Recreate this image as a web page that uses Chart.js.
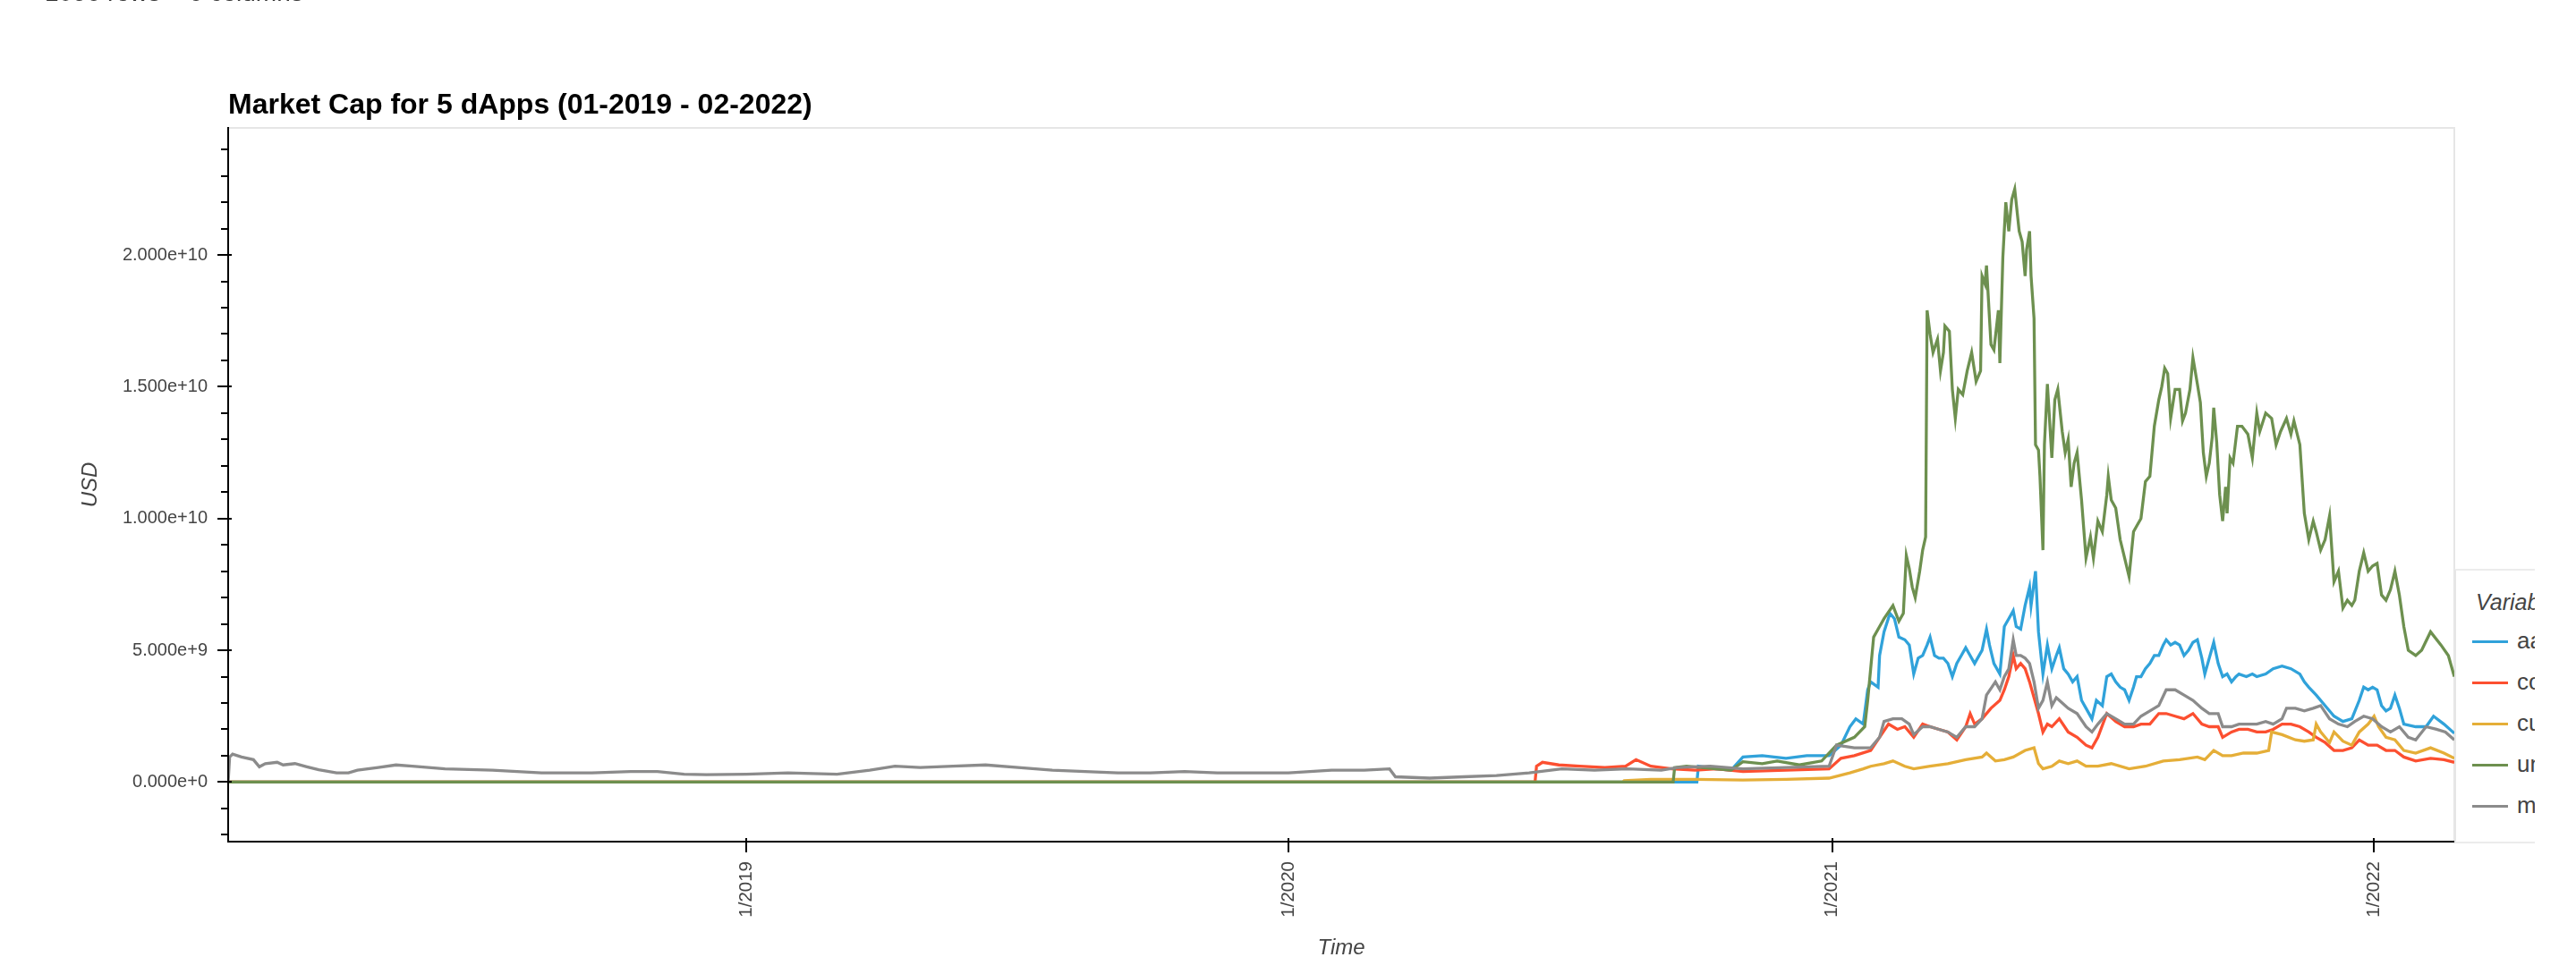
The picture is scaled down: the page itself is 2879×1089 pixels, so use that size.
<!DOCTYPE html>
<html>
<head>
<meta charset="utf-8">
<script src="https://cdn.jsdelivr.net/npm/chart.js@4.4.1/dist/chart.umd.min.js"></script>
<style>
  html, body { margin: 0; padding: 0; background: #fff; overflow: hidden; }
  #wrap { position: relative; width: 2879px; height: 1089px; overflow: hidden; }
  #c { position: absolute; left: 0; top: 0; }
  .txt { position: absolute; font-family: 'Liberation Sans', Arial, Helvetica, sans-serif; white-space: nowrap; }
  #rows { left: 50px; top: -22px; font-size: 28px; line-height: 28px; color: #333; }
  #legClip { position: absolute; left: 2743px; top: 600px; width: 90px; height: 400px; overflow: hidden; }
  #legend { position: absolute; left: 0px; top: 36px; width: 400px; height: 303px; border: 2px solid #ececec; border-left-color: #e6e6e6; background: #fff; }
  #legTitle { left: 24px; top: 61px; font-size: 25px; line-height: 25px; font-style: italic; color: #444; }
  .legLine { position: absolute; left: 20px; width: 40px; height: 3.3px; }
  .legLab { left: 70px; font-size: 26px; line-height: 26px; color: #444; }
</style>
</head>
<body>
<div id="wrap">
  <canvas id="c" width="2879" height="1089"></canvas>
  <div class="txt" id="rows">1096 rows × 6 columns</div>
  <div id="legClip">
    <div id="legend"></div>
    <div class="txt" id="legTitle">Variable</div>
  </div>
</div>
<script>
// ---------------- DATA (values in billions of USD) ----------------
const seriesNames = ['aave', 'compound', 'curve', 'uniswap', 'maker'];
const seriesColors = ['#30a2da', '#fc4f30', '#e5ae38', '#6d904f', '#8b8b8b'];

const aaveDates = ['2018-01-17','2020-10-02','2020-10-03','2020-10-15','2020-10-25','2020-11-02','2020-11-15','2020-12-01','2020-12-15','2020-12-30',
'2021-01-07','2021-01-13','2021-01-17','2021-01-22','2021-01-25','2021-01-27','2021-02-01','2021-02-02','2021-02-05','2021-02-09','2021-02-12','2021-02-15','2021-02-19','2021-02-22','2021-02-25','2021-02-28',
'2021-03-03','2021-03-06','2021-03-08','2021-03-11','2021-03-14','2021-03-17','2021-03-20','2021-03-23','2021-03-26','2021-03-29','2021-04-01','2021-04-04','2021-04-07','2021-04-09','2021-04-12','2021-04-15','2021-04-17','2021-04-20','2021-04-24','2021-04-27','2021-04-30',
'2021-05-03','2021-05-05','2021-05-08','2021-05-11','2021-05-14','2021-05-15','2021-05-18','2021-05-20','2021-05-23','2021-05-26','2021-05-29','2021-06-01','2021-06-03','2021-06-06','2021-06-09','2021-06-12','2021-06-15','2021-06-18','2021-06-21','2021-06-25','2021-06-28',
'2021-07-02','2021-07-05','2021-07-08','2021-07-11','2021-07-14','2021-07-17','2021-07-20','2021-07-23','2021-07-25','2021-07-28','2021-07-31','2021-08-03','2021-08-06','2021-08-09','2021-08-12','2021-08-14','2021-08-17','2021-08-20','2021-08-23','2021-08-26','2021-08-29',
'2021-09-01','2021-09-04','2021-09-07','2021-09-09','2021-09-12','2021-09-15','2021-09-18','2021-09-21','2021-09-24','2021-09-27','2021-09-30','2021-10-02','2021-10-07','2021-10-11','2021-10-14','2021-10-20','2021-10-25','2021-10-31',
'2021-11-06','2021-11-12','2021-11-15','2021-11-18','2021-11-23','2021-11-29','2021-12-05','2021-12-11','2021-12-17','2021-12-22','2021-12-25','2021-12-28','2021-12-31',
'2022-01-03','2022-01-06','2022-01-09','2022-01-12','2022-01-15','2022-01-18','2022-01-21','2022-01-29','2022-02-05','2022-02-10','2022-02-17','2022-02-24'];
const aaveValues = [0,0,0.6,0.5,0.45,0.95,1.0,0.9,1.0,1.0,
1.4,2.1,2.4,2.2,3.5,3.8,3.6,4.8,5.7,6.4,6.2,5.5,5.4,5.2,4.1,4.7,
4.8,5.2,5.5,4.8,4.7,4.7,4.5,4.0,4.5,4.8,5.1,4.8,4.5,4.7,5.0,5.8,5.2,4.5,4.1,5.9,6.2,
6.5,5.9,5.8,6.7,7.4,6.7,8.0,5.7,4.1,5.2,4.3,4.8,5.1,4.3,4.1,3.8,4.0,3.1,2.8,2.4,3.1,
2.9,4.0,4.1,3.8,3.6,3.5,3.1,3.6,4.0,4.0,4.3,4.5,4.8,4.8,5.2,5.4,5.2,5.3,5.2,4.8,5.0,
5.3,5.4,4.7,4.1,4.7,5.3,4.5,4.0,4.1,3.8,4.0,4.1,4.0,4.1,4.0,4.1,4.3,4.4,
4.3,4.1,3.8,3.6,3.3,2.9,2.5,2.3,2.4,3.1,3.6,3.5,3.6,
3.5,2.9,2.7,2.8,3.3,2.8,2.2,2.1,2.1,2.5,2.2,1.85];

const compoundDates = ['2018-01-17','2020-06-15','2020-06-16','2020-06-20','2020-07-01','2020-07-15','2020-08-01','2020-08-15','2020-08-22','2020-09-01','2020-09-15','2020-10-01','2020-10-15','2020-11-02','2020-12-01','2020-12-30',
'2021-01-07','2021-01-16','2021-01-27','2021-02-02','2021-02-08','2021-02-14','2021-02-19','2021-02-25','2021-03-03','2021-03-08','2021-03-14','2021-03-20','2021-03-26','2021-04-01','2021-04-04','2021-04-07','2021-04-12','2021-04-18','2021-04-24','2021-04-27','2021-04-30',
'2021-05-03','2021-05-05','2021-05-08','2021-05-11','2021-05-14','2021-05-20','2021-05-23','2021-05-26','2021-05-29','2021-06-03','2021-06-09','2021-06-15','2021-06-21','2021-06-25','2021-06-29',
'2021-07-05','2021-07-11','2021-07-17','2021-07-23','2021-07-28','2021-08-03','2021-08-09','2021-08-14','2021-08-20','2021-08-26','2021-09-01','2021-09-07','2021-09-12','2021-09-18','2021-09-21','2021-09-27',
'2021-10-02','2021-10-08','2021-10-14','2021-10-20','2021-10-25','2021-10-31','2021-11-06','2021-11-12','2021-11-18','2021-11-23','2021-11-29','2021-12-05','2021-12-11','2021-12-17','2021-12-22','2021-12-28',
'2022-01-03','2022-01-09','2022-01-15','2022-01-21','2022-01-29','2022-02-08','2022-02-17','2022-02-24'];
const compoundValues = [0,0,0.6,0.75,0.65,0.6,0.55,0.6,0.85,0.6,0.5,0.45,0.5,0.4,0.45,0.5,
0.9,1.0,1.2,1.7,2.2,2.0,2.1,1.7,2.2,2.1,2.0,1.9,1.6,2.1,2.6,2.2,2.4,2.8,3.1,3.5,4.0,
4.8,4.3,4.5,4.3,3.8,2.6,1.9,2.2,2.1,2.4,1.9,1.7,1.4,1.3,1.7,
2.6,2.3,2.1,2.1,2.2,2.2,2.6,2.6,2.5,2.4,2.6,2.2,2.1,2.1,1.7,1.9,
2.0,2.0,1.9,1.9,2.0,2.2,2.2,2.1,1.9,1.7,1.5,1.2,1.2,1.3,1.6,1.4,
1.4,1.2,1.2,0.95,0.8,0.9,0.85,0.75];

const curveDates = ['2018-01-17','2020-08-13','2020-08-14','2020-09-01','2020-10-01','2020-11-02','2020-12-01','2020-12-30',
'2021-01-13','2021-01-22','2021-01-27','2021-02-05','2021-02-11','2021-02-19','2021-02-25','2021-03-08','2021-03-20','2021-04-01','2021-04-12','2021-04-15','2021-04-21','2021-04-27',
'2021-05-03','2021-05-11','2021-05-17','2021-05-20','2021-05-23','2021-05-29','2021-06-03','2021-06-09','2021-06-15','2021-06-21','2021-06-29','2021-07-08','2021-07-20','2021-07-31',
'2021-08-12','2021-08-23','2021-09-04','2021-09-09','2021-09-15','2021-09-21','2021-09-27','2021-10-05','2021-10-14','2021-10-22','2021-10-24','2021-10-31',
'2021-11-09','2021-11-15','2021-11-21','2021-11-23','2021-11-26','2021-12-02','2021-12-05','2021-12-11','2021-12-17','2021-12-22','2021-12-28',
'2022-01-01','2022-01-04','2022-01-09','2022-01-15','2022-01-21','2022-01-29','2022-02-08','2022-02-17','2022-02-24'];
const curveValues = [0,0,0.05,0.1,0.1,0.08,0.1,0.15,
0.35,0.5,0.6,0.7,0.8,0.6,0.5,0.6,0.7,0.85,0.95,1.1,0.8,0.85,
0.95,1.2,1.3,0.7,0.5,0.6,0.8,0.7,0.8,0.6,0.6,0.7,0.5,0.6,
0.8,0.85,0.95,0.85,1.2,1.0,1.0,1.1,1.1,1.2,1.9,1.8,
1.6,1.55,1.6,2.2,1.9,1.5,1.9,1.55,1.4,1.9,2.2,
2.5,2.1,1.7,1.6,1.2,1.1,1.3,1.1,0.9];

const uniswapDates = ['2018-01-17','2020-09-16','2020-09-17','2020-09-25','2020-10-05','2020-10-15','2020-10-25','2020-11-02','2020-11-15','2020-11-25','2020-12-10','2020-12-25',
'2021-01-04','2021-01-16','2021-01-23','2021-01-25','2021-01-27','2021-01-29','2021-02-02','2021-02-05','2021-02-11','2021-02-15','2021-02-18','2021-02-20','2021-02-22','2021-02-24','2021-02-26',
'2021-03-01','2021-03-03','2021-03-05','2021-03-06','2021-03-08','2021-03-10','2021-03-13','2021-03-15','2021-03-17','2021-03-18','2021-03-21','2021-03-23','2021-03-25','2021-03-27','2021-03-30',
'2021-04-02','2021-04-05','2021-04-08','2021-04-11','2021-04-12','2021-04-14','2021-04-15','2021-04-18','2021-04-20','2021-04-23','2021-04-24','2021-04-26','2021-04-28','2021-04-30',
'2021-05-02','2021-05-04','2021-05-07','2021-05-09','2021-05-11','2021-05-12','2021-05-14','2021-05-15','2021-05-17','2021-05-18','2021-05-20','2021-05-21','2021-05-23','2021-05-24','2021-05-26','2021-05-29','2021-05-31',
'2021-06-02','2021-06-05','2021-06-07','2021-06-09','2021-06-11','2021-06-13','2021-06-15','2021-06-18','2021-06-21','2021-06-24','2021-06-26','2021-06-29',
'2021-07-02','2021-07-05','2021-07-06','2021-07-08','2021-07-11','2021-07-14','2021-07-17','2021-07-20','2021-07-23','2021-07-25','2021-07-28','2021-07-31',
'2021-08-03','2021-08-06','2021-08-09','2021-08-11','2021-08-13','2021-08-15','2021-08-17','2021-08-20','2021-08-23','2021-08-25','2021-08-27','2021-08-30',
'2021-09-01','2021-09-04','2021-09-06','2021-09-08','2021-09-10','2021-09-12','2021-09-14','2021-09-15','2021-09-17','2021-09-19','2021-09-21','2021-09-23','2021-09-24','2021-09-26','2021-09-28',
'2021-10-01','2021-10-04','2021-10-08','2021-10-11','2021-10-14','2021-10-16','2021-10-20','2021-10-24','2021-10-27','2021-10-30',
'2021-11-03','2021-11-06','2021-11-08','2021-11-12','2021-11-15','2021-11-18','2021-11-21','2021-11-23','2021-11-26','2021-11-29',
'2021-12-02','2021-12-05','2021-12-08','2021-12-11','2021-12-14','2021-12-17','2021-12-19','2021-12-22','2021-12-25','2021-12-28','2021-12-31',
'2022-01-03','2022-01-06','2022-01-09','2022-01-12','2022-01-15','2022-01-18','2022-01-21','2022-01-24','2022-01-29','2022-02-02','2022-02-08','2022-02-15','2022-02-20','2022-02-24'];
const uniswapValues = [0,0,0.55,0.6,0.55,0.5,0.45,0.77,0.7,0.8,0.65,0.8,
1.4,1.7,2.1,3.1,4.3,5.5,5.9,6.2,6.7,6.1,6.4,8.6,8.1,7.4,7.0,
8.0,8.8,9.3,17.9,17.0,16.3,16.8,15.6,16.3,17.3,17.1,14.9,13.8,14.9,14.7,
15.6,16.3,15.2,15.6,19.2,18.9,19.6,16.6,16.4,17.9,15.9,19.9,22.0,20.9,
22.1,22.5,20.9,20.5,19.2,20.2,20.9,19.2,17.6,12.8,12.6,11.6,8.8,12.8,15.1,12.3,14.5,
14.9,13.3,12.5,13.0,11.2,12.1,12.5,10.7,8.5,9.3,8.5,9.9,
9.5,10.9,11.6,10.7,10.4,9.2,8.5,7.8,9.5,9.7,10.0,11.4,
11.6,13.5,14.5,15.0,15.7,15.5,13.8,14.9,14.9,13.7,14.0,14.9,
16.1,15.1,14.4,12.5,11.6,12.1,13.1,14.2,12.9,10.9,9.9,11.2,10.2,12.3,12.1,
13.5,13.5,13.2,12.3,14.0,13.3,14.0,13.8,12.8,13.3,
13.8,13.2,13.7,12.8,10.2,9.2,9.9,9.5,8.8,9.2,
10.1,7.6,8.0,6.6,6.9,6.7,6.9,8.0,8.7,8.0,8.2,
8.3,7.1,6.9,7.3,8.0,7.1,5.9,5.0,4.8,5.0,5.7,5.2,4.8,4.0];

const makerDates = ['2018-01-17','2018-01-18','2018-01-20','2018-01-26','2018-02-03','2018-02-07','2018-02-11','2018-02-19','2018-02-23','2018-03-03','2018-03-11','2018-03-19','2018-03-31','2018-04-08','2018-04-14','2018-04-28','2018-05-10','2018-05-21','2018-06-12','2018-07-14','2018-08-16','2018-09-19','2018-10-15','2018-11-02','2018-11-20','2018-12-05',
'2019-01-01','2019-01-29','2019-03-03','2019-03-25','2019-04-11','2019-04-28','2019-05-20','2019-06-11','2019-07-03','2019-07-26','2019-08-17','2019-09-08','2019-09-30','2019-10-23','2019-11-14','2019-12-06',
'2020-01-01','2020-01-30','2020-02-21','2020-03-09','2020-03-13','2020-04-05','2020-04-28','2020-05-20','2020-06-11','2020-07-03','2020-07-25','2020-08-16','2020-09-08','2020-09-19','2020-10-11','2020-11-02','2020-12-01','2020-12-30',
'2021-01-04','2021-01-16','2021-01-27','2021-02-02','2021-02-05','2021-02-11','2021-02-17','2021-02-22','2021-02-25','2021-03-03','2021-03-08','2021-03-14','2021-03-20','2021-03-26','2021-04-01','2021-04-07','2021-04-12','2021-04-15','2021-04-21','2021-04-24','2021-04-27','2021-04-30',
'2021-05-03','2021-05-05','2021-05-08','2021-05-11','2021-05-14','2021-05-17','2021-05-20','2021-05-23','2021-05-26','2021-05-29','2021-06-01','2021-06-03','2021-06-09','2021-06-15','2021-06-21','2021-06-25','2021-06-29',
'2021-07-05','2021-07-11','2021-07-17','2021-07-23','2021-07-28','2021-08-03','2021-08-09','2021-08-14','2021-08-20','2021-08-26','2021-09-01','2021-09-07','2021-09-12','2021-09-18','2021-09-21','2021-09-27',
'2021-10-02','2021-10-08','2021-10-14','2021-10-20','2021-10-25','2021-10-31','2021-11-03','2021-11-09','2021-11-15','2021-11-21','2021-11-26','2021-12-02','2021-12-08','2021-12-14','2021-12-19','2021-12-25','2021-12-31',
'2022-01-06','2022-01-12','2022-01-18','2022-01-24','2022-01-29','2022-02-05','2022-02-12','2022-02-18','2022-02-24'];
const makerValues = [0,0.95,1.06,0.95,0.85,0.58,0.70,0.75,0.65,0.70,0.58,0.47,0.35,0.35,0.45,0.55,0.65,0.6,0.5,0.45,0.35,0.35,0.4,0.4,0.3,0.28,
0.3,0.35,0.3,0.45,0.6,0.55,0.6,0.65,0.55,0.45,0.4,0.35,0.35,0.4,0.35,0.35,
0.35,0.45,0.45,0.5,0.2,0.15,0.2,0.25,0.35,0.5,0.45,0.5,0.45,0.55,0.6,0.5,0.55,0.6,
1.4,1.3,1.3,1.7,2.3,2.4,2.4,2.2,1.8,2.1,2.1,2.0,1.9,1.7,2.1,2.1,2.4,3.3,3.8,3.5,4.0,4.3,
5.4,4.8,4.8,4.7,4.5,3.8,2.8,3.1,3.8,2.9,3.2,3.1,2.8,2.6,2.1,1.9,2.2,
2.6,2.4,2.2,2.2,2.5,2.7,2.9,3.5,3.5,3.3,3.1,2.8,2.6,2.6,2.1,2.1,
2.2,2.2,2.2,2.3,2.2,2.4,2.8,2.8,2.7,2.8,2.9,2.4,2.2,2.1,2.3,2.5,2.4,
2.1,1.9,2.1,1.7,1.6,2.1,2.0,1.9,1.6];

// axis settings
const xRange = ['2018-01-17', '2022-02-24'];
const xTickDates = ['2019-01-01', '2020-01-01', '2021-01-01', '2022-01-01'];
const yRange = [-2.26e9, 2.482e10];
const yMajorTicks = [0, 5e9, 1e10, 1.5e10, 2e10];
const yMinorStep = 1e9;
const chartTitle = 'Market Cap for 5 dApps (01-2019 - 02-2022)';
const xTitle = 'Time';
const yTitle = 'USD';

// ---------------- BUILD ----------------
const allDates = [aaveDates, compoundDates, curveDates, uniswapDates, makerDates];
const allValues = [aaveValues, compoundValues, curveValues, uniswapValues, makerValues];
const FONT = "'Liberation Sans', Arial, Helvetica, sans-serif";
Chart.defaults.font.family = FONT;

const datasets = seriesNames.map((name, i) => ({
  label: name,
  data: allDates[i].map((d, j) => ({ x: Date.parse(d), y: allValues[i][j] * 1e9 })),
  borderColor: seriesColors[i],
  backgroundColor: seriesColors[i],
  borderWidth: 3.3,
  pointRadius: 0,
  tension: 0,
  fill: false,
  order: seriesNames.length - i
}));

// legend (HTML)
const legClip = document.getElementById('legClip');
seriesNames.forEach((name, i) => {
  const line = document.createElement('div');
  line.className = 'legLine';
  line.style.top = (116 + i * 46) + 'px';
  line.style.background = seriesColors[i];
  legClip.appendChild(line);
  const lab = document.createElement('div');
  lab.className = 'txt legLab';
  lab.style.top = (103 + i * 46) + 'px';
  lab.textContent = name;
  legClip.appendChild(lab);
});

const decor = {
  id: 'decor',
  beforeDatasetsDraw(chart) {
    const { ctx, chartArea: a } = chart;
    ctx.save();
    ctx.strokeStyle = '#e6e6e6';
    ctx.lineWidth = 2;
    ctx.beginPath();
    ctx.moveTo(a.left + 1, a.top);
    ctx.lineTo(a.right, a.top);
    ctx.lineTo(a.right, a.bottom - 1);
    ctx.stroke();
    ctx.restore();
  },
  afterDraw(chart) {
    const { ctx, chartArea: a, scales } = chart;
    const x = scales.x, y = scales.y;
    ctx.save();
    ctx.strokeStyle = '#000';
    ctx.lineWidth = 2;
    ctx.beginPath();
    // axis lines
    ctx.moveTo(a.left, a.top - 1); ctx.lineTo(a.left, a.bottom + 1);
    ctx.moveTo(a.left - 1, a.bottom); ctx.lineTo(a.right, a.bottom);
    const start = Math.ceil(yRange[0] / yMinorStep) * yMinorStep;
    for (let v = start; v <= yRange[1]; v += yMinorStep) {
      const py = Math.round(y.getPixelForValue(v));
      if (yMajorTicks.includes(Math.round(v))) {
        ctx.moveTo(a.left - 12, py); ctx.lineTo(a.left + 4, py);
      } else {
        ctx.moveTo(a.left - 8, py); ctx.lineTo(a.left, py);
      }
    }
    xTickDates.forEach(d => {
      const px = Math.round(x.getPixelForValue(Date.parse(d)));
      ctx.moveTo(px, a.bottom - 4); ctx.lineTo(px, a.bottom + 12);
    });
    ctx.stroke();
    ctx.restore();
  }
};

new Chart(document.getElementById('c'), {
  type: 'line',
  data: { datasets },
  plugins: [decor],
  options: {
    responsive: false,
    animation: false,
    devicePixelRatio: 1,
    layout: { padding: { left: 0, right: 136, top: 99, bottom: 0 } },
    plugins: {
      legend: { display: false },
      tooltip: { enabled: false },
      title: {
        display: true, text: chartTitle, align: 'start', fullSize: false,
        color: '#000', font: { size: 32, weight: 'bold', family: FONT, lineHeight: 1.2 },
        padding: { top: 0, bottom: 5.6 }
      }
    },
    scales: {
      x: {
        type: 'linear',
        min: Date.parse(xRange[0]), max: Date.parse(xRange[1]),
        grid: { display: false, drawTicks: false },
        border: { display: false },
        afterBuildTicks: (s) => { s.ticks = xTickDates.map(d => ({ value: Date.parse(d) })); },
        afterFit: (s) => { s.height = 148; },
        ticks: {
          autoSkip: false, minRotation: 90, maxRotation: 90, padding: 22,
          color: '#444', font: { size: 20.5, family: FONT },
          callback: (v) => { const d = new Date(v); return (d.getUTCMonth() + 1) + '/' + d.getUTCFullYear(); }
        },
        title: { display: true, text: xTitle, color: '#444', font: { size: 24, style: 'italic', family: FONT, lineHeight: 1.2 }, padding: { top: 0, bottom: 14 } }
      },
      y: {
        type: 'linear',
        min: yRange[0], max: yRange[1],
        grid: { display: false, drawTicks: false },
        border: { display: false },
        afterBuildTicks: (s) => { s.ticks = yMajorTicks.map(v => ({ value: v })); },
        afterFit: (s) => { s.width = 255; },
        ticks: {
          padding: 23, color: '#444', font: { size: 20, family: FONT },
          callback: (v) => Number(v).toExponential(3)
        },
        title: { display: true, text: yTitle, color: '#444', font: { size: 24, style: 'italic', family: FONT, lineHeight: 1.2 }, padding: { top: 87, bottom: 0 } }
      }
    }
  }
});
</script>
</body>
</html>
